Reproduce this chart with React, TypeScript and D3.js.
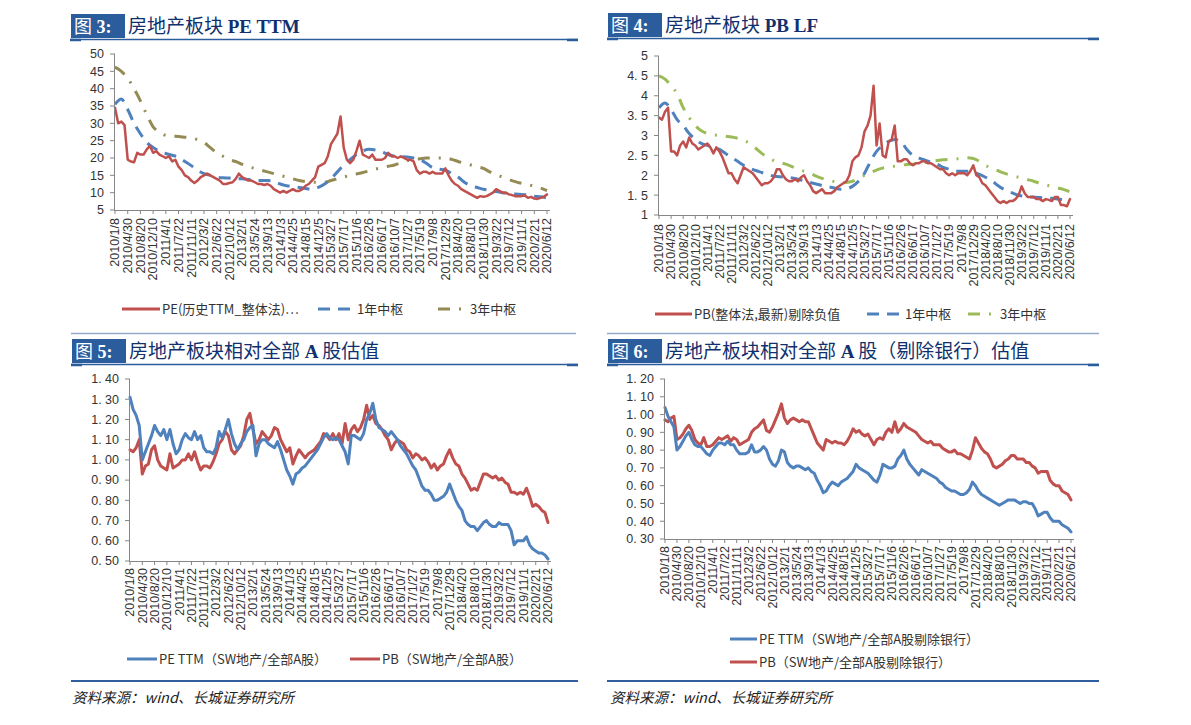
import React from "react";
import * as d3 from "d3";

// ---- time axis ----------------------------------------------------------
const START = new Date(2010, 0, 8);

const dateLabels = [
  "2010/1/8", "2010/4/30", "2010/8/20", "2010/12/10", "2011/4/1", "2011/7/22", "2011/11/11",
  "2012/3/2", "2012/6/22", "2012/10/12", "2013/2/1", "2013/5/24", "2013/9/13", "2014/1/3",
  "2014/4/25", "2014/8/15", "2014/12/5", "2015/3/27", "2015/7/17", "2015/11/6", "2016/2/26",
  "2016/6/17", "2016/10/7", "2017/1/27", "2017/5/19", "2017/9/8", "2017/12/29", "2018/4/20",
  "2018/8/10", "2018/11/30", "2019/3/22", "2019/7/12", "2019/11/1", "2020/2/21", "2020/6/12",
];

// ---- 图3: PE TTM (sampled every 4 weeks) --------------------------------
const peTTM = [
  34.5, 30, 30.5, 29.5, 19.5, 19, 18.8, 21.5, 21, 21, 22.5, 23.5, 21.5, 22, 21, 20.5,
  20, 20.5, 19, 19.5, 17.5, 16.5, 15, 14.5, 13.5, 12.8, 13.5, 14.5, 15, 15.5, 15, 14.5,
  14, 13.5, 12.5, 12.5, 12.8, 13, 14, 15.5, 14.5, 14, 13.5, 13.5, 13, 12.5, 12.5, 12.2,
  12.5, 12, 11, 10.5, 10, 10.5, 10, 10.5, 11, 10.5, 10.5, 11, 12, 12.5, 13.5, 14.5,
  17.5, 18, 18.5, 20.5, 24, 25.5, 27, 32, 23, 19.5, 18.5, 19.5, 22, 25, 21, 20.5,
  20, 21, 19.5, 19.5, 19.5, 20, 21.5, 20.5, 20.5, 20, 20.5, 20, 19.5, 19.5, 19, 16.5,
  15.5, 16, 16, 15.5, 16, 15.5, 15.5, 15.5, 17, 15, 13.5, 12.5, 12, 11, 10.5, 10,
  9.5, 9, 8.5, 9, 8.8, 9, 9.5, 10, 11, 10.5, 10, 10, 9.5, 9.3, 9, 9,
  9, 9.2, 8.5, 8.8, 8.3, 8.2, 8.5, 8.8, 9.5,
];
// 1-year and 3-year centres (sampled every 8 weeks)
const pe1y = [
  35.5, 37, 34, 30, 27, 24.5, 23, 22, 21.3, 20.8, 20.2, 19, 17.8, 16.5, 15.5, 15, 14.5,
  14.3, 14.2, 14, 14, 13.8, 13.6, 13.5, 13.5, 13.3, 12.5, 12, 11.8, 11.5, 11.2, 11, 11.5,
  12.5, 14, 16, 18, 19.5, 21, 22, 22.5, 22.3, 21.8, 21, 20.5, 20.4, 20.3, 20, 19.5,
  18.5, 17.2, 16.8, 16.5, 15.5, 14.5, 13, 12, 11.5, 11, 10.7, 10.3, 10, 9.8, 9.6, 9.5,
  9.3, 9, 8.8, 8.5,
];
const pe3y = [
  46.2, 45, 43, 40, 36.5, 32.5, 29, 27.5, 26.5, 26.3, 26.2, 26, 25.8, 25.3, 24.5, 23, 21.5,
  20.5, 19.5, 19, 18.2, 17.5, 17, 16.5, 16, 15.5, 15, 14.5, 14, 13.5, 13.2, 13, 13,
  13, 13.5, 14, 14.5, 15, 15.4, 15.8, 16.3, 16.8, 17.2, 17.6, 18, 18.6, 19.2, 19.6, 19.8,
  20, 20, 20, 20, 19.6, 19, 18.5, 18, 17.5, 17, 16, 15.2, 14.5, 13.8, 13.2, 12.7,
  12.3, 11.9, 11.3, 10.6,
];

// ---- 图4: PB LF ------------------------------------------------------------
const pbLF = [
  3.45, 3.4, 3.6, 3.7, 2.6, 2.6, 2.5, 2.75, 2.85, 2.7, 2.95, 2.8, 2.75, 2.65, 2.7, 2.75,
  2.8, 2.7, 2.55, 2.7, 2.6, 2.45, 2.25, 2.05, 2.05, 1.9, 1.8, 2.0, 2.2, 2.15, 2.1, 2.05,
  1.95, 1.85, 1.75, 1.8, 1.8, 1.85, 1.95, 2.15, 2.15, 2.0, 1.9, 1.85, 1.85, 1.9, 1.85, 1.95,
  2.0, 1.85, 1.75, 1.6, 1.55, 1.6, 1.65, 1.55, 1.55, 1.55, 1.6, 1.7, 1.75, 1.8, 1.85, 2.0,
  2.35, 2.45, 2.5, 2.7, 3.1, 3.25, 3.5, 4.25, 2.75, 3.3, 2.5, 2.45, 2.85, 2.9, 3.25, 2.35,
  2.35, 2.4, 2.4, 2.3, 2.25, 2.3, 2.3, 2.35, 2.35, 2.3, 2.3, 2.25, 2.2, 2.15, 2.15, 2.05,
  2.0, 2.05, 2.0, 2.05, 2.05, 2.05, 2.0, 2.1, 2.25, 2.0, 1.95, 1.8, 1.75, 1.65, 1.55, 1.45,
  1.35, 1.3, 1.35, 1.3, 1.35, 1.35, 1.4, 1.5, 1.72, 1.55, 1.45, 1.45, 1.45, 1.4, 1.4, 1.35,
  1.4, 1.38, 1.35, 1.45, 1.45, 1.25, 1.25, 1.22, 1.4,
];
const pb1y = [
  3.7, 3.82, 3.65, 3.4, 3.25, 3.05, 2.9, 2.8, 2.75, 2.7, 2.65, 2.55, 2.45, 2.35, 2.25, 2.18,
  2.12, 2.07, 2.02, 1.98, 1.96, 1.95, 1.93, 1.9, 1.86, 1.82, 1.78, 1.74, 1.71, 1.68, 1.65,
  1.66, 1.72, 1.85, 2.05, 2.35, 2.6, 2.75, 2.85, 2.9, 2.85, 2.65, 2.5, 2.43, 2.38, 2.33,
  2.28, 2.2, 2.15, 2.1, 2.1, 2.1, 2.07, 2.02, 1.95, 1.87, 1.75, 1.65, 1.58, 1.52, 1.48,
  1.46, 1.45, 1.44, 1.43, 1.42, 1.4, 1.38, 1.35,
];
const pb3y = [
  4.5, 4.42, 4.25, 4.05, 3.7, 3.45, 3.25, 3.12, 3.05, 3.02, 3.0, 2.98, 2.96, 2.93, 2.88, 2.8,
  2.68, 2.55, 2.45, 2.37, 2.32, 2.28, 2.22, 2.15, 2.1, 2.05, 1.98, 1.92, 1.88, 1.84, 1.8,
  1.82, 1.85, 1.92, 2.0, 2.07, 2.13, 2.18, 2.2, 2.23, 2.25, 2.27, 2.28, 2.3, 2.32, 2.35,
  2.37, 2.39, 2.4, 2.41, 2.42, 2.44, 2.42, 2.35, 2.25, 2.18, 2.12, 2.06, 2.01, 1.97, 1.93,
  1.89, 1.85, 1.8, 1.76, 1.72, 1.68, 1.64, 1.58,
];

// ---- 图5: relative to all A shares -----------------------------------------
const relPE = [
  1.31, 1.25, 1.22, 1.17, 1.0, 1.04, 1.08, 1.12, 1.17, 1.14, 1.12, 1.15, 1.1, 1.15, 1.08, 1.03,
  1.05, 1.1, 1.13, 1.11, 1.1, 1.14, 1.1, 1.12, 1.06, 1.04, 1.04, 1.03, 1.06, 1.14, 1.11, 1.15,
  1.2, 1.13, 1.08, 1.05, 1.08, 1.1, 1.14, 1.16, 1.17, 1.02, 1.08, 1.1, 1.1, 1.08, 1.07, 1.06,
  1.09, 1.05, 1.0, 0.95, 0.92, 0.88, 0.93, 0.94, 0.96, 0.97, 0.99, 1.01, 1.03, 1.05, 1.08, 1.11,
  1.13, 1.11, 1.1, 1.11, 1.1, 1.07, 1.04, 0.98, 1.12, 1.12, 1.11, 1.1, 1.13, 1.2, 1.23, 1.28,
  1.2, 1.16, 1.15, 1.14, 1.12, 1.14, 1.12, 1.1, 1.07, 1.05, 1.03, 1.0, 0.97, 0.95, 0.91, 0.87,
  0.85, 0.85, 0.83, 0.8, 0.8, 0.81, 0.82, 0.84, 0.88, 0.84, 0.8, 0.77, 0.75, 0.7, 0.68, 0.67,
  0.67, 0.65, 0.67, 0.69, 0.7, 0.68, 0.67, 0.67, 0.69, 0.68, 0.68, 0.68, 0.65, 0.58, 0.6, 0.6,
  0.6, 0.62, 0.58, 0.56, 0.55, 0.54, 0.54, 0.53, 0.51,
];
const relPB = [
  1.05, 1.04, 1.06, 1.1, 0.93, 0.97, 0.98, 1.05, 1.07, 1.0, 0.97, 0.96, 0.95, 1.03, 0.96, 0.97,
  0.98, 1.0, 1.0, 1.03, 1.0, 1.04, 0.99, 0.95, 0.97, 0.97, 0.96, 0.99, 1.03, 1.08, 1.1, 1.14,
  1.12, 1.05, 1.03, 1.05, 1.07, 1.12, 1.2, 1.23, 1.15, 1.08, 1.1, 1.14, 1.12, 1.1, 1.12, 1.16,
  1.15, 1.1, 1.07, 1.04, 1.06, 0.98, 1.02, 1.05, 1.03, 1.01, 1.03, 1.04, 1.05, 1.07, 1.09, 1.13,
  1.12, 1.1, 1.13, 1.1, 1.13, 1.08, 1.18, 1.1, 1.15, 1.17, 1.14, 1.16, 1.2, 1.27, 1.2, 1.22,
  1.18, 1.17, 1.15, 1.12, 1.1, 1.05, 1.08, 1.1, 1.09, 1.08, 1.05, 1.04, 1.01, 1.03, 1.02, 1.0,
  1.01, 0.99, 0.96, 0.98, 0.95, 0.97, 0.98, 1.02, 1.05, 1.01, 0.98, 0.97, 0.93, 0.91, 0.88, 0.85,
  0.86, 0.85, 0.89, 0.93, 0.93, 0.92, 0.91, 0.92, 0.9, 0.91, 0.89, 0.88, 0.84, 0.84, 0.83, 0.84,
  0.83, 0.86, 0.82, 0.77, 0.78, 0.77, 0.75, 0.74, 0.69,
];

// ---- 图6: relative to A shares excluding banks ------------------------------
const relPEexBank = [
  1.04, 0.99, 0.96, 0.93, 0.8, 0.82, 0.85, 0.88, 0.9, 0.86, 0.83, 0.82, 0.82, 0.8, 0.78, 0.77,
  0.8, 0.82, 0.84, 0.84, 0.83, 0.85, 0.83, 0.83, 0.8, 0.78, 0.78, 0.78, 0.79, 0.83, 0.79, 0.79,
  0.8, 0.82, 0.8, 0.75, 0.72, 0.71, 0.74, 0.8, 0.79, 0.73, 0.71, 0.7, 0.71, 0.71, 0.7, 0.69,
  0.7, 0.68, 0.67, 0.63, 0.6, 0.56, 0.57, 0.6, 0.62, 0.61, 0.6, 0.62, 0.63, 0.64, 0.66, 0.68,
  0.72, 0.7, 0.69, 0.68, 0.67, 0.65, 0.63, 0.62, 0.66, 0.72, 0.71, 0.7, 0.7, 0.71, 0.75, 0.77,
  0.8, 0.75, 0.72, 0.7, 0.68, 0.66, 0.69, 0.68, 0.67, 0.66, 0.65, 0.64, 0.62, 0.61, 0.59, 0.58,
  0.57, 0.57, 0.56, 0.55, 0.55, 0.56, 0.58, 0.62, 0.6, 0.57, 0.55, 0.54, 0.53, 0.52, 0.51, 0.5,
  0.49, 0.5, 0.51, 0.52, 0.52, 0.52, 0.51, 0.5, 0.51, 0.51, 0.5, 0.5, 0.47, 0.43, 0.44, 0.45,
  0.45, 0.42, 0.4, 0.4, 0.4, 0.38, 0.37, 0.36, 0.34,
];
const relPBexBank = [
  0.97, 0.96, 0.98, 0.99, 0.86, 0.87, 0.89, 0.92, 0.94, 0.91, 0.86, 0.84, 0.83, 0.87, 0.82, 0.82,
  0.83, 0.85, 0.87, 0.86, 0.87, 0.88, 0.85, 0.87, 0.86, 0.83, 0.84, 0.85, 0.86, 0.9, 0.92, 0.93,
  0.95, 0.97, 0.91, 0.9, 0.93, 0.97, 1.01, 1.06, 0.98, 0.95, 0.97, 0.98, 0.97, 0.96, 0.97, 0.96,
  0.96, 0.92, 0.88, 0.84, 0.82, 0.8, 0.86, 0.85, 0.84, 0.85, 0.84, 0.84, 0.83, 0.85, 0.88, 0.92,
  0.9, 0.91, 0.89, 0.88, 0.89, 0.86, 0.83, 0.86, 0.87, 0.86, 0.9, 0.92, 0.9, 0.96, 0.9, 0.92,
  0.95, 0.93, 0.92, 0.91, 0.9, 0.88, 0.86, 0.85, 0.84, 0.85, 0.83, 0.83, 0.83, 0.81, 0.8, 0.79,
  0.79, 0.8, 0.78, 0.78, 0.77, 0.76, 0.75, 0.8, 0.87, 0.84, 0.81, 0.79, 0.78, 0.75, 0.71, 0.7,
  0.71, 0.72, 0.74, 0.75, 0.77, 0.77, 0.75, 0.75, 0.75, 0.73, 0.73, 0.71, 0.7, 0.67, 0.68, 0.68,
  0.68, 0.63, 0.61, 0.6, 0.6, 0.57, 0.56, 0.55, 0.52,
];

// ---- styling -----------------------------------------------------------------
const RED = "#c0504d";
const BLUE = "#4f81bd";
const OLIVE = "#948a54";
const GREEN = "#9bbb59";
const NAVY = "#10306e";
const HEADER_BLUE = "#2b5c9b";
const AXIS = "#868686";
const TEXT = "#333333";
const SANS = "'Liberation Sans', Arial, sans-serif";
const SERIF = "'Liberation Serif', 'Times New Roman', serif";
const CJK = "'Noto Sans CJK SC', sans-serif";
const DASH = "12,8";
const DASH_DOT = "12,9,2,9";

const parseLabel = (s: string) => {
  const [y, m, d] = s.split("/").map(Number);
  return new Date(y, m - 1, d);
};
const labelDates = dateLabels.map(parseLabel);
const END = labelDates[labelDates.length - 1];

const datesFor = (n: number, stepWeeks: number) =>
  d3.range(n).map((i) => d3.timeDay.offset(START, i * stepWeeks * 7));

type Series = { values: number[]; stepWeeks: number; color: string; width: number; dash?: string };
type LegendItem = { x: number; y: number; len: number; label: string; color: string; dash?: string };

type PanelSpec = {
  x0: number;
  x1: number;
  yTop: number;
  yBottom: number;
  yDomain: [number, number];
  yTicks: number[];
  yFormat: (v: number) => string;
  labelGap: number;
  series: Series[];
  legend: LegendItem[];
};

const fmtInt = (v: number) => String(v);
const fmtHalf = (v: number) => (Number.isInteger(v) ? String(v) : v.toFixed(1).replace(".", ". "));
const fmt2 = (v: number) => v.toFixed(2).replace(".", ". ");

function Panel({ p }: { p: PanelSpec }) {
  const x = d3.scaleTime().domain([START, END]).range([p.x0, p.x1]);
  const y = d3.scaleLinear().domain(p.yDomain).range([p.yBottom, p.yTop]);
  return (
    <g>
      {p.series.map((s, i) => {
        const dates = datesFor(s.values.length, s.stepWeeks);
        const line = d3
          .line<number>()
          .x((_, j) => x(dates[j]))
          .y((v) => y(v))
          .curve(s.dash ? d3.curveMonotoneX : d3.curveLinear);
        return (
          <path
            key={i}
            d={line(s.values) || ""}
            fill="none"
            stroke={s.color}
            strokeWidth={s.width}
            strokeDasharray={s.dash}
            strokeLinejoin="round"
            strokeLinecap={s.dash ? "butt" : "round"}
          />
        );
      })}
      {/* y axis */}
      <line x1={p.x0 - 0.5} x2={p.x0 - 0.5} y1={p.yTop} y2={p.yBottom} stroke={AXIS} strokeWidth={1} />
      {p.yTicks.map((t) => (
        <g key={t}>
          <line x1={p.x0 - 5} x2={p.x0} y1={y(t)} y2={y(t)} stroke={AXIS} strokeWidth={1} />
          <text
            x={p.x0 - 11}
            y={y(t)}
            dy="0.35em"
            textAnchor="end"
            fontFamily={SANS}
            fontSize={12.5}
            fill={TEXT}
          >
            {p.yFormat(t)}
          </text>
        </g>
      ))}
      {/* x axis */}
      <line x1={p.x0 - 1} x2={p.x1 + 3} y1={p.yBottom + 0.5} y2={p.yBottom + 0.5} stroke={AXIS} strokeWidth={1} />
      {labelDates.map((d, i) => (
        <g key={i}>
          <line x1={x(d)} x2={x(d)} y1={p.yBottom} y2={p.yBottom + 4} stroke={AXIS} strokeWidth={1} />
          <text
            transform={`translate(${x(d)},${p.yBottom + p.labelGap}) rotate(-90)`}
            dy="0.35em"
            textAnchor="end"
            fontFamily={SANS}
            fontSize={12.5}
            fill={TEXT}
          >
            {dateLabels[i]}
          </text>
        </g>
      ))}
      {/* legend */}
      {p.legend.map((l, i) => (
        <g key={i}>
          <line
            x1={l.x}
            x2={l.x + l.len}
            y1={l.y}
            y2={l.y}
            stroke={l.color}
            strokeWidth={3}
            strokeDasharray={l.dash}
          />
          <text x={l.x + l.len + 2} y={l.y} dy="0.36em" fontFamily={CJK} fontSize={13} fill={TEXT}>
            {l.label}
          </text>
        </g>
      ))}
    </g>
  );
}

type HeaderSpec = { x: number; y: number; num: string; parts: [string, boolean][]; lineEnd: number };

function Header({ h }: { h: HeaderSpec }) {
  const boxW = 54;
  const boxH = 24;
  return (
    <g>
      <rect x={h.x} y={h.y} width={boxW} height={boxH} fill={HEADER_BLUE} />
      <text x={h.x + 3} y={h.y + 19} fill="#ffffff" fontSize={18}>
        <tspan fontFamily={CJK}>图</tspan>
        <tspan fontFamily={SERIF} fontWeight="bold">{` ${h.num}:`}</tspan>
      </text>
      <text x={h.x + boxW + 3} y={h.y + 19} fill={NAVY} fontSize={19}>
        {h.parts.map(([t, latin], i) => (
          <tspan key={i} fontFamily={latin ? SERIF : CJK} fontWeight={latin ? "bold" : "normal"}>
            {t}
          </tspan>
        ))}
      </text>
      <line x1={h.x - 1} x2={h.lineEnd} y1={h.y + boxH + 1.5} y2={h.y + boxH + 1.5} stroke={HEADER_BLUE} strokeWidth={1.3} />
      <line x1={h.x - 1} x2={h.x + 10} y1={h.y + boxH + 2} y2={h.y + boxH + 2} stroke={HEADER_BLUE} strokeWidth={2.5} />
      <line x1={h.lineEnd - 11} x2={h.lineEnd} y1={h.y + boxH + 2} y2={h.y + boxH + 2} stroke={HEADER_BLUE} strokeWidth={2.5} />
    </g>
  );
}

const panels: PanelSpec[] = [
  {
    x0: 115, x1: 547, yTop: 54, yBottom: 210, yDomain: [5, 50],
    yTicks: d3.range(5, 51, 5), yFormat: fmtInt, labelGap: 8,
    series: [
      { values: pe3y, stepWeeks: 8, color: OLIVE, width: 3, dash: DASH_DOT },
      { values: pe1y, stepWeeks: 8, color: BLUE, width: 3, dash: DASH },
      { values: peTTM, stepWeeks: 4, color: RED, width: 2.5 },
    ],
    legend: [
      { x: 122, y: 309, len: 38, label: "PE(历史TTM_整体法)…", color: RED },
      { x: 318, y: 309, len: 37, label: "1年中枢", color: BLUE, dash: DASH },
      { x: 438, y: 309, len: 30, label: " 3年中枢", color: OLIVE, dash: DASH_DOT },
    ],
  },
  {
    x0: 659, x1: 1070, yTop: 56, yBottom: 215, yDomain: [1, 5],
    yTicks: d3.range(1, 5.01, 0.5), yFormat: fmtHalf, labelGap: 9,
    series: [
      { values: pb3y, stepWeeks: 8, color: GREEN, width: 3, dash: DASH_DOT },
      { values: pb1y, stepWeeks: 8, color: BLUE, width: 3, dash: DASH },
      { values: pbLF, stepWeeks: 4, color: RED, width: 2.5 },
    ],
    legend: [
      { x: 655, y: 314, len: 37, label: "PB(整体法,最新)剔除负值", color: RED },
      { x: 867, y: 314, len: 36, label: "1年中枢", color: BLUE, dash: DASH },
      { x: 968, y: 314, len: 30, label: " 3年中枢", color: GREEN, dash: DASH_DOT },
    ],
  },
  {
    x0: 130, x1: 548, yTop: 379, yBottom: 561, yDomain: [0.5, 1.4],
    yTicks: d3.range(0, 10).map((i) => 0.5 + i * 0.1), yFormat: fmt2, labelGap: 7,
    series: [
      { values: relPB, stepWeeks: 4, color: RED, width: 3 },
      { values: relPE, stepWeeks: 4, color: BLUE, width: 3 },
    ],
    legend: [
      { x: 127, y: 659, len: 30, label: "PE TTM（SW地产/全部A股）", color: BLUE },
      { x: 350, y: 659, len: 30, label: "PB（SW地产/全部A股）", color: RED },
    ],
  },
  {
    x0: 665, x1: 1071, yTop: 379, yBottom: 539, yDomain: [0.3, 1.2],
    yTicks: d3.range(0, 10).map((i) => 0.3 + i * 0.1), yFormat: fmt2, labelGap: 7,
    series: [
      { values: relPBexBank, stepWeeks: 4, color: RED, width: 3 },
      { values: relPEexBank, stepWeeks: 4, color: BLUE, width: 3 },
    ],
    legend: [
      { x: 730, y: 639, len: 27, label: "PE TTM（SW地产/全部A股剔除银行）", color: BLUE },
      { x: 730, y: 662, len: 27, label: "PB（SW地产/全部A股剔除银行）", color: RED },
    ],
  },
];

const headers: HeaderSpec[] = [
  { x: 71, y: 14, num: "3", parts: [["房地产板块", false], [" PE TTM", true]], lineEnd: 578 },
  { x: 608, y: 13, num: "4", parts: [["房地产板块", false], [" PB LF", true]], lineEnd: 1099 },
  { x: 72, y: 339, num: "5", parts: [["房地产板块相对全部", false], [" A ", true], ["股估值", false]], lineEnd: 578 },
  {
    x: 608, y: 339, num: "6",
    parts: [["房地产板块相对全部", false], [" A ", true], ["股（剔除银行）估值", false]],
    lineEnd: 1099,
  },
];

export default function App() {
  return (
    <svg width={1191} height={725} style={{ display: "block", position: "absolute", left: 0, top: 0 }}>
      <rect width={1191} height={725} fill="#ffffff" />
      {headers.map((h, i) => (
        <Header key={i} h={h} />
      ))}
      {panels.map((p, i) => (
        <Panel key={i} p={p} />
      ))}
      {/* row separators */}
      <line x1={71} x2={576} y1={333.5} y2={333.5} stroke="#93a9c9" strokeWidth={1.5} />
      <line x1={607} x2={1099} y1={333.5} y2={333.5} stroke="#93a9c9" strokeWidth={1.5} />
      <line x1={71} x2={578} y1={681} y2={681} stroke="#2f5f9f" strokeWidth={2} />
      <line x1={607} x2={1099} y1={681} y2={681} stroke="#2f5f9f" strokeWidth={2} />
      {/* sources */}
      <text x={72} y={703} fontFamily={CJK} fontStyle="italic" fontSize={14.5} fill="#222">
        资料来源：wind、长城证券研究所
      </text>
      <text x={610} y={703} fontFamily={CJK} fontStyle="italic" fontSize={14.5} fill="#222">
        资料来源：wind、长城证券研究所
      </text>
    </svg>
  );
}
